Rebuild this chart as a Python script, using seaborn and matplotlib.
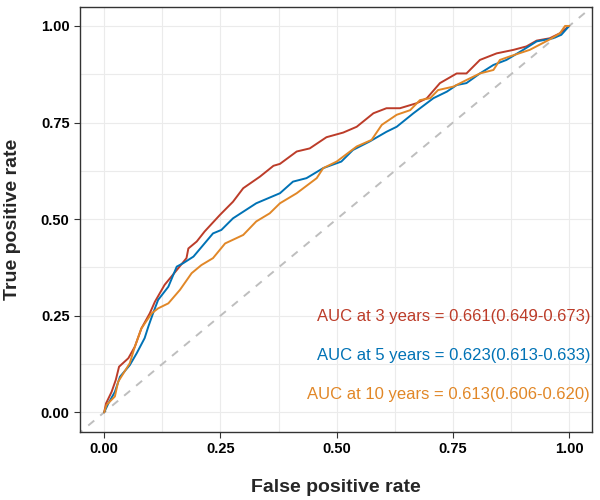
import pandas as pd
import seaborn as sns
import matplotlib.pyplot as plt
from matplotlib.ticker import MultipleLocator

# ROC points
fpr_3y = [0, 0.004, 0.016, 0.025, 0.032, 0.052, 0.066, 0.08, 0.098, 0.109, 0.13, 0.156, 0.177, 0.181,
          0.199, 0.216, 0.249, 0.277, 0.299, 0.335, 0.364, 0.378, 0.414, 0.442, 0.478, 0.514, 0.543,
          0.579, 0.607, 0.636, 0.672, 0.694, 0.722, 0.758, 0.779, 0.808, 0.844, 0.88, 0.908, 0.93,
          0.958, 0.98, 1]
tpr_3y = [0, 0.023, 0.053, 0.084, 0.118, 0.14, 0.17, 0.217, 0.256, 0.286, 0.33, 0.368, 0.399, 0.424,
          0.442, 0.468, 0.511, 0.545, 0.58, 0.61, 0.638, 0.643, 0.675, 0.683, 0.712, 0.724, 0.739,
          0.774, 0.787, 0.787, 0.8, 0.813, 0.852, 0.877, 0.877, 0.912, 0.929, 0.938, 0.947, 0.962,
          0.968, 0.981, 1]

fpr_5y = [0, 0.009, 0.023, 0.034, 0.055, 0.07, 0.087, 0.095, 0.105, 0.116, 0.138, 0.156, 0.17, 0.192,
          0.234, 0.252, 0.277, 0.327, 0.378, 0.406, 0.435, 0.471, 0.51, 0.535, 0.571, 0.607, 0.629,
          0.665, 0.708, 0.737, 0.758, 0.779, 0.808, 0.837, 0.865, 0.901, 0.93, 0.965, 0.983, 1]
tpr_5y = [0, 0.023, 0.053, 0.092, 0.122, 0.153, 0.192, 0.222, 0.256, 0.291, 0.325, 0.377, 0.386, 0.403,
          0.463, 0.472, 0.502, 0.541, 0.567, 0.597, 0.606, 0.632, 0.649, 0.679, 0.701, 0.726, 0.739,
          0.774, 0.813, 0.83, 0.847, 0.852, 0.877, 0.899, 0.912, 0.938, 0.96, 0.968, 0.977, 1]

fpr_10y = [0, 0.005, 0.023, 0.03, 0.055, 0.066, 0.08, 0.102, 0.116, 0.138, 0.163, 0.188, 0.209, 0.234,
           0.26, 0.299, 0.327, 0.356, 0.378, 0.414, 0.457, 0.471, 0.5, 0.543, 0.575, 0.597, 0.629,
           0.658, 0.679, 0.701, 0.718, 0.751, 0.779, 0.808, 0.837, 0.851, 0.872, 0.915, 0.958, 0.98,
           0.991, 1]
tpr_10y = [0, 0.019, 0.041, 0.079, 0.127, 0.17, 0.217, 0.256, 0.269, 0.282, 0.317, 0.36, 0.381, 0.399,
           0.437, 0.459, 0.494, 0.515, 0.541, 0.567, 0.606, 0.632, 0.649, 0.688, 0.705, 0.744, 0.77,
           0.782, 0.808, 0.813, 0.834, 0.843, 0.86, 0.877, 0.886, 0.912, 0.921, 0.938, 0.965, 0.981,
           1, 1]

groups = ['3 years', '5 years', '10 years']
auc_labels = ['AUC at 3 years = 0.661(0.649-0.673)',
              'AUC at 5 years = 0.623(0.613-0.633)',
              'AUC at 10 years = 0.613(0.606-0.620)']
colors = ['#BC3C29', '#0072B5', '#E18727']

roc = pd.concat([
    pd.DataFrame({'fpr': fpr_3y, 'tpr': tpr_3y, 'time': '3 years'}),
    pd.DataFrame({'fpr': fpr_5y, 'tpr': tpr_5y, 'time': '5 years'}),
    pd.DataFrame({'fpr': fpr_10y, 'tpr': tpr_10y, 'time': '10 years'}),
], ignore_index=True)

sns.set_style('white')
plt.rcParams['font.family'] = ['Liberation Sans', 'DejaVu Sans']

fig = plt.figure(figsize=(6, 5), dpi=100)
ax = fig.add_axes([80 / 600, 1 - 432 / 500, 512 / 600, 425 / 500])

# reference diagonal
ax.plot([-0.06, 1.06], [-0.06, 1.06], color='#BEBEBE', linestyle=(0, (4, 4)), linewidth=1.4, zorder=1)

sns.lineplot(data=roc, x='fpr', y='tpr', hue='time', palette=dict(zip(groups, colors)),
             sort=False, estimator=None, linewidth=1.4, legend=False, ax=ax, zorder=3)

for lab, col, ypos in zip(auc_labels, colors, [0.248, 0.146, 0.045]):
    ax.text(1.045, ypos, lab, color=col, fontsize=12, ha='right', va='center')

ax.set_xlim(-0.052, 1.049)
ax.set_ylim(-0.051, 1.049)
ax.xaxis.set_major_locator(MultipleLocator(0.25))
ax.yaxis.set_major_locator(MultipleLocator(0.25))
ax.xaxis.set_minor_locator(MultipleLocator(0.125))
ax.yaxis.set_minor_locator(MultipleLocator(0.125))
ax.set_xticklabels([f'{v:.2f}' for v in ax.get_xticks()])
ax.set_yticklabels([f'{v:.2f}' for v in ax.get_yticks()])
ax.grid(True, which='both', color='#EBEBEB', linewidth=0.8, zorder=0)
ax.set_axisbelow(True)
ax.tick_params(axis='both', which='major', length=4, width=0.8, color='#333333',
               labelsize=10.5, labelcolor='black', bottom=True, left=True)
ax.tick_params(which='minor', length=0)
for lbl in ax.get_xticklabels() + ax.get_yticklabels():
    lbl.set_fontweight('bold')
for sp in ax.spines.values():
    sp.set_color('#333333')
    sp.set_linewidth(1.0)

ax.set_xlabel('False positive rate', fontsize=14, fontweight='bold', labelpad=16)
ax.set_ylabel('True positive rate', fontsize=14, fontweight='bold', labelpad=14)

fig.savefig('out.png', dpi=100)
